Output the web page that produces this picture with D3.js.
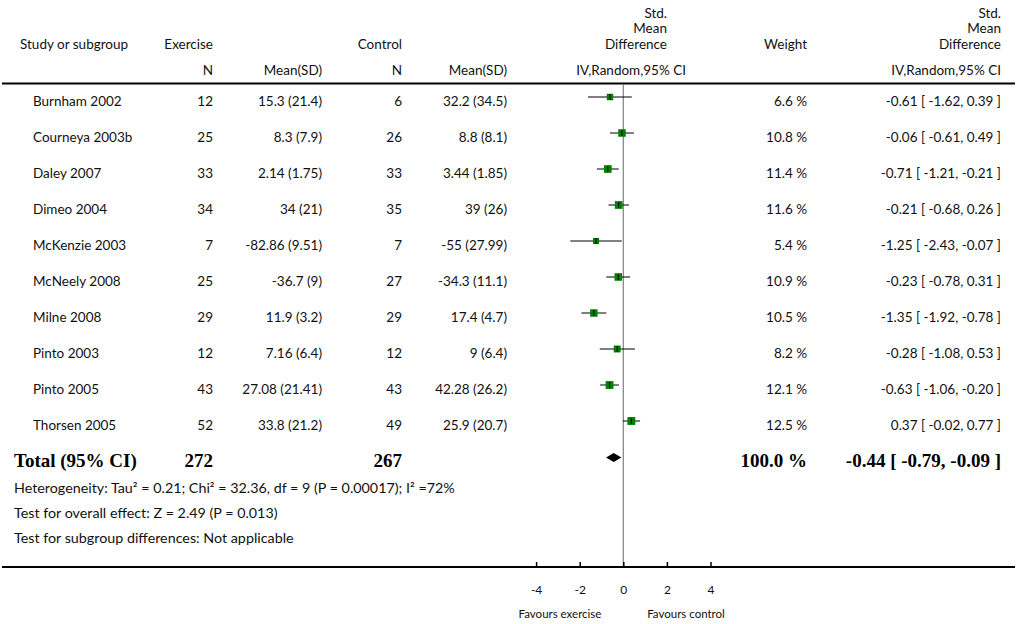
<!DOCTYPE html>
<html>
<head>
<meta charset="utf-8">
<script src="https://cdn.jsdelivr.net/npm/d3@7"></script>
<style>
  body { margin: 0; background: #fff; }
  text { font-family: Lato, "Open Sans", sans-serif; font-size: 13.5px; fill: #111; }
  .bold { font-family: "Liberation Serif", "DejaVu Serif", serif; font-weight: bold; font-size: 19px; fill: #000; }
  .foot { font-size: 14.3px; }
  .small { font-size: 11.5px; }
</style>
</head>
<body>
<script>
// study level data
var studies = ["Burnham 2002", "Courneya 2003b", "Daley 2007", "Dimeo 2004", "McKenzie 2003",
	"McNeely 2008", "Milne 2008", "Pinto 2003", "Pinto 2005", "Thorsen 2005"]
var exN = [12, 25, 33, 34, 7, 25, 29, 12, 43, 52]
var exMean = [15.3, 8.3, 2.14, 34, -82.86, -36.7, 11.9, 7.16, 27.08, 33.8]
var exSD = [21.4, 7.9, 1.75, 21, 9.51, 9, 3.2, 6.4, 21.41, 21.2]
var ctN = [6, 26, 33, 35, 7, 27, 29, 12, 43, 49]
var ctMean = [32.2, 8.8, 3.44, 39, -55, -34.3, 17.4, 9, 42.28, 25.9]
var ctSD = [34.5, 8.1, 1.85, 26, 27.99, 11.1, 4.7, 6.4, 26.2, 20.7]
var weight = [6.6, 10.8, 11.4, 11.6, 5.4, 10.9, 10.5, 8.2, 12.1, 12.5]
var smd = [-0.61, -0.06, -0.71, -0.21, -1.25, -0.23, -1.35, -0.28, -0.63, 0.37]
var ciLow = [-1.62, -0.61, -1.21, -0.68, -2.43, -0.78, -1.92, -1.08, -1.06, -0.02]
var ciHigh = [0.39, 0.49, -0.21, 0.26, -0.07, 0.31, -0.78, 0.53, -0.20, 0.77]

// pooled result
var totalExN = 272
var totalCtN = 267
var totalWeight = 100.0
var totalSmd = -0.44
var totalLow = -0.79
var totalHigh = -0.09

var xTicks = [-4, -2, 0, 2, 4]
var footNotes = [
	"Heterogeneity: Tau\u00b2 = 0.21; Chi\u00b2 = 32.36, df = 9 (P = 0.00017); I\u00b2 =72%",
	"Test for overall effect: Z = 2.49 (P = 0.013)",
	"Test for subgroup differences: Not applicable"
]

var width = 1017, height = 624
var svg = d3.select("body").append("svg")
	.attr("width", width)
	.attr("height", height)

var x = d3.scaleLinear().domain([-4, 4]).range([536.1, 710.5])
var rowY = d3.scaleLinear().domain([0, 1]).range([101, 137])
var boxSize = d3.scaleSqrt().domain([5, 13]).range([6, 8])

// plain hyphen for negatives, like the original
var loc = d3.formatLocale({decimal: ".", thousands: ",", grouping: [3], currency: ["", ""], minus: "-"})
var f2 = loc.format(".2f")
var f1 = loc.format(".1f")

function label(txt, px, py, anchor, cls) {
	return svg.append("text")
		.attr("x", px)
		.attr("y", py)
		.attr("dy", "0.35em")
		.attr("text-anchor", anchor || "start")
		.attr("class", cls || null)
		.text(txt)
}

// header
label("Study or subgroup", 20, 44)
label("Exercise", 213, 44, "end")
label("Control", 402, 44, "end")
label("N", 213, 70, "end")
label("Mean(SD)", 322, 70, "end")
label("N", 402, 70, "end")
label("Mean(SD)", 507, 70, "end")
label("Std.", 667, 13, "end")
label("Mean", 667, 28, "end")
label("Difference", 667, 44, "end")
label("IV,Random,95% CI", 686, 70, "end")
label("Weight", 807, 44, "end")
label("Std.", 1001, 13, "end")
label("Mean", 1001, 28, "end")
label("Difference", 1001, 44, "end")
label("IV,Random,95% CI", 1001, 70, "end")

// rules
svg.append("line").attr("x1", 2).attr("x2", 1015).attr("y1", 83.5).attr("y2", 83.5)
	.attr("stroke", "#000").attr("stroke-width", 2)
svg.append("line").attr("x1", 2).attr("x2", 1015).attr("y1", 567).attr("y2", 567)
	.attr("stroke", "#000").attr("stroke-width", 2)

// line of no effect
svg.append("line").attr("x1", x(0)).attr("x2", x(0)).attr("y1", 84).attr("y2", 566)
	.attr("stroke", "#808080").attr("stroke-width", 1.2)

// table rows
studies.forEach(function(s, i) {
	var y = rowY(i)
	label(s, 33, y)
	label(exN[i], 213, y, "end")
	label(exMean[i] + " (" + exSD[i] + ")", 322, y, "end")
	label(ctN[i], 402, y, "end")
	label(ctMean[i] + " (" + ctSD[i] + ")", 507, y, "end")
	label(f1(weight[i]) + " %", 807, y, "end")
	label(f2(smd[i]) + " [ " + f2(ciLow[i]) + ", " + f2(ciHigh[i]) + " ]", 1001, y, "end")
})

// forest marks
var marks = svg.selectAll("g.study")
	.data(studies)
	.enter()
	.append("g")
	.attr("class", "study")
	.attr("transform", function(d, i) { return "translate(0," + (rowY(i) - 4) + ")" })

marks.append("line")
	.attr("x1", function(d, i) { return x(ciLow[i]) })
	.attr("x2", function(d, i) { return x(ciHigh[i]) })
	.attr("stroke", "#000")
	.attr("stroke-width", 1)

marks.append("rect")
	.attr("x", function(d, i) { return x(smd[i]) - boxSize(weight[i]) / 2 })
	.attr("y", function(d, i) { return -boxSize(weight[i]) / 2 })
	.attr("width", function(d, i) { return boxSize(weight[i]) })
	.attr("height", function(d, i) { return boxSize(weight[i]) })
	.attr("fill", "#008000")

marks.append("line")
	.attr("x1", function(d, i) { return x(smd[i]) })
	.attr("x2", function(d, i) { return x(smd[i]) })
	.attr("y1", -3)
	.attr("y2", 3)
	.attr("stroke", "#000")
	.attr("stroke-width", 1)

// total row
var totY = 460
label("Total (95% CI)", 14, totY, "start", "bold")
label(totalExN, 213, totY, "end", "bold")
label(totalCtN, 402, totY, "end", "bold")
label(f1(totalWeight) + " %", 807, totY, "end", "bold")
label(f2(totalSmd) + " [ " + f2(totalLow) + ", " + f2(totalHigh) + " ]", 1001, totY, "end", "bold")

var dy = 457.5
svg.append("polygon")
	.attr("points", [
		[x(totalLow), dy], [x(totalSmd), dy - 4.5],
		[x(totalHigh), dy], [x(totalSmd), dy + 4.5]
	].join(" "))
	.attr("fill", "#000")

footNotes.forEach(function(t, i) {
	label(t, 14, 488 + i * 25, "start", "foot")
})

// axis
var axis = d3.axisBottom(x)
	.tickValues(xTicks)
	.tickSizeInner(-5)
	.tickSizeOuter(0)
	.tickPadding(18)
	.tickFormat(loc.format("d"))

var ax = svg.append("g")
	.attr("transform", "translate(0,567)")
	.call(axis)
ax.select(".domain").remove()
ax.selectAll(".tick line").attr("stroke", "#000").attr("stroke-width", 1.5)
ax.selectAll(".tick text")
	.style("font-family", "Lato, sans-serif")
	.style("font-size", "12px")
	.attr("fill", "#111")

label("Favours exercise", 560, 614, "middle", "small")
label("Favours control", 686, 614, "middle", "small")
</script>
</body>
</html>
